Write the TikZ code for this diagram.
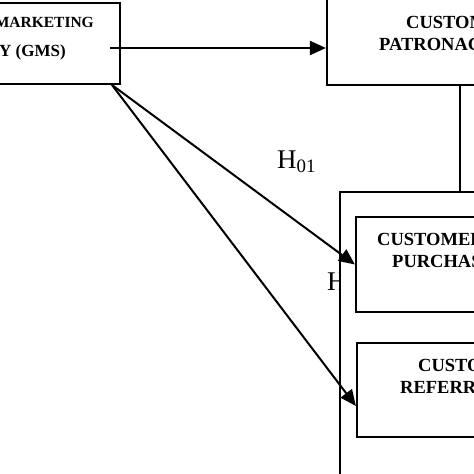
\documentclass[tikz,border=0pt]{standalone}
\usepackage{fontspec}
\setmainfont{Liberation Serif}
\usetikzlibrary{arrows.meta,calc}

\begin{document}
\begin{tikzpicture}[
   x=1pt,y=-1pt,
   box/.style={draw,line width=2.2pt,inner sep=0pt},
   txt/.style={inner sep=0pt,anchor=base west,font=\fontsize{18.5}{22}\selectfont\bfseries},
   hyp/.style={inner sep=0pt,anchor=base west,font=\fontsize{27}{32}\selectfont},
   to/.style={-{Triangle[length=16pt,width=14pt]},line width=2pt}]
\useasboundingbox (0,0) rectangle (474,474);
\clip (0,0) rectangle (474,474);
% hypothesis labels
\node[hyp] (h1) at (277,168) {H\textsubscript{01}};
\node[hyp] (h2) at (327,290) {H};
% boxes
\node[box,minimum width=180pt,minimum height=81pt] (gms) at (30,43.5) {};
\node[box,minimum width=266pt,minimum height=86pt] (patron) at (460,42) {};
\node[box,fill=white,minimum width=260pt,minimum height=368pt] (outer) at (470,376) {};
\node[box,minimum width=204pt,minimum height=95pt] (purch) at (458,264.5) {};
\node[box,minimum width=203pt,minimum height=94pt] (refer) at (458.5,390) {};
% box texts
\node[txt,anchor=base east,font=\fontsize{15.5}{19}\selectfont\bfseries] (gms1) at (94,27) {GREEN MARKETING};
\node[txt,anchor=base east,font=\fontsize{17}{20}\selectfont\bfseries] (gms2) at (66,56) {STRATEGY (GMS)};
\node[txt] (patron1) at (406,28) {CUSTOMER};
\node[txt] (patron2) at (379,50) {PATRONAGE};
\node[txt] (purch1) at (377,245) {CUSTOMER};
\node[txt] (purch2) at (392,267) {PURCHASE};
\node[txt] (refer1) at (418,371) {CUSTOMER};
\node[txt] (refer2) at (400,393) {REFERRAL};
% connectors
\coordinate (src) at (112,85);
\coordinate (src1) at (110,48);
\draw[to] (src1) -- (src1 -| patron.west);
\draw[to] (src) -- (purch.west);
\draw[to] (src) -- ($(refer.west)+(0,16)$);
\draw[line width=2pt] (patron.south) -- (outer.north -| patron.south);
\end{tikzpicture}
\end{document}
